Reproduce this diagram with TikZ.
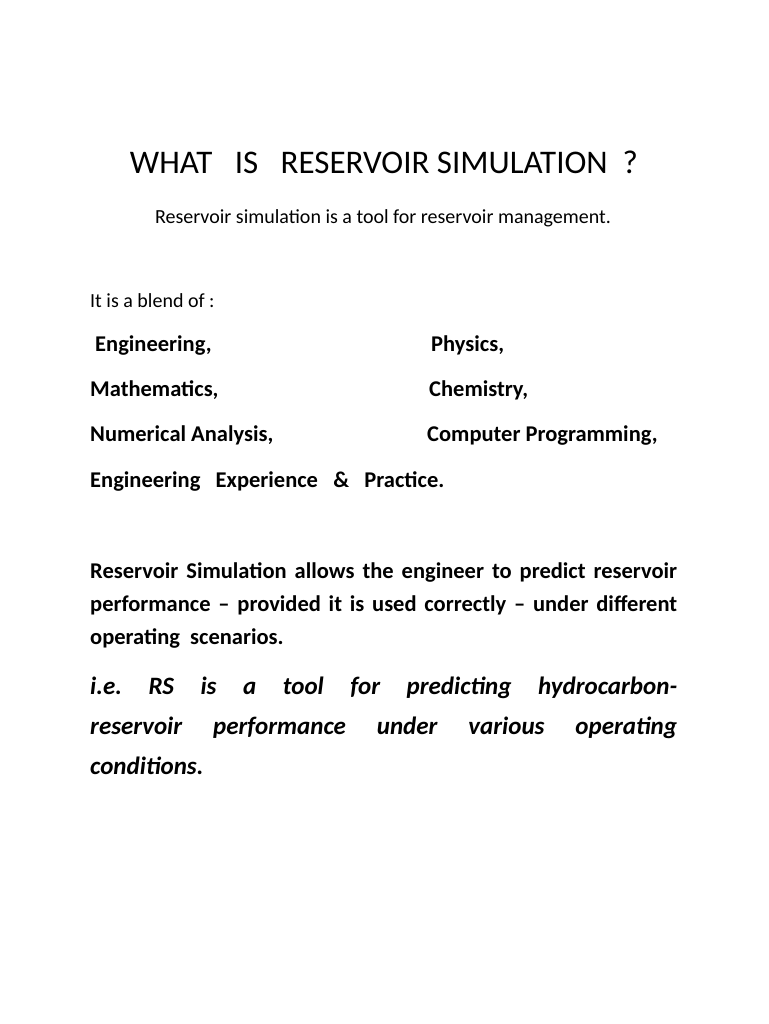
\documentclass[tikz,border=0pt]{standalone}
\usepackage{fontspec}
\setmainfont{Carlito}
\frenchspacing
\begin{document}
\begin{tikzpicture}[x=1pt,y=-1pt,
 t/.style={anchor=base west,inner sep=0pt},
 b/.style={t,font=\fontsize{22.5}{25}\selectfont\bfseries}]
\useasboundingbox[fill=white] (0,0) rectangle (768,1024);
\node[anchor=base,inner sep=0pt,font=\fontsize{33}{36}\selectfont] (title) at (384,174) {WHAT\ \ \ IS\ \ \ RESERVOIR SIMULATION\ \ ?};
\node[anchor=base,inner sep=0pt,font=\fontsize{20}{24}\selectfont] (sub) at (383,223) {Reservoir simulation is a tool for reservoir management.};
\node[t,font=\fontsize{20}{24}\selectfont] (blend) at (90,307) {It is a blend of :};
\node[b] (e1) at (95,351) {Engineering,};
\node[b] (p1) at (431,351) {Physics,};
\node[b] (m1) at (90,396) {Mathematics,};
\node[b] (c1) at (429,396) {Chemistry,};
\node[b] (n1) at (90,441) {Numerical Analysis,};
\node[b] (cp) at (427,441) {Computer Programming,};
\node[b] (ee) at (90,487) {Engineering\ \ \ Experience\ \ \ \&\ \ \ Practice.};
\node[b] (r1) at (90,578) {\makebox[587pt][s]{Reservoir Simulation allows the engineer to predict reservoir}};
\node[b] (r2) at (90,611) {\makebox[587pt][s]{performance -- provided it is used correctly -- under different}};
\node[b] (r3) at (90,644) {operating\ \ scenarios.};
\begin{scope}[every node/.style={t,font=\fontsize{25}{28}\selectfont\bfseries\itshape}]
\node (i1) at (90,694) {\makebox[587pt][s]{i.e. RS is a tool for predicting hydrocarbon-}};
\node (i2) at (90,734) {\makebox[587pt][s]{reservoir performance under various operating}};
\node (i3) at (90,774) {conditions.};
\end{scope}
\end{tikzpicture}
\end{document}
